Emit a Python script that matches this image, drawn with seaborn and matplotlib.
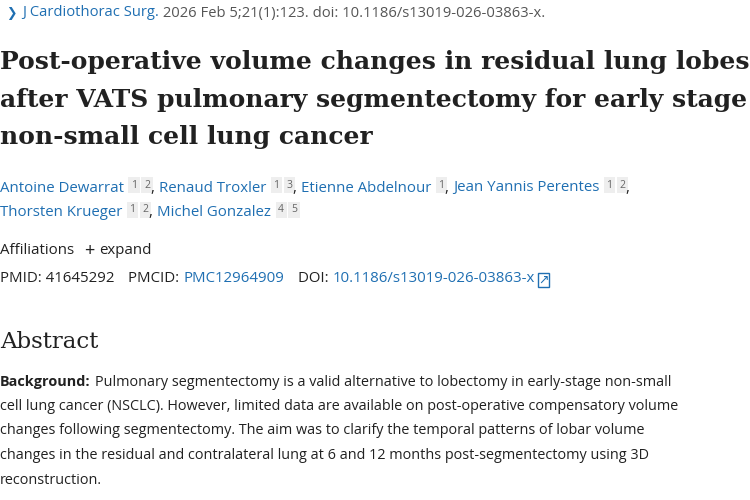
import matplotlib
matplotlib.use("Agg")
import matplotlib.pyplot as plt
import seaborn as sns

sns.set_theme(style="white")
plt.rcParams['font.family'] = ['Open Sans', 'DejaVu Sans']

BLUE = "#1f6fb2"
GRAY = "#555555"
DARK = "#212121"

journal = "J Cardiothorac Surg."
citation = " 2026 Feb 5;21(1):123. doi: 10.1186/s13019-026-03863-x."
title_lines = ["Post-operative volume changes in residual lung lobes",
               "after VATS pulmonary segmentectomy for early stage",
               "non-small cell lung cancer"]
author_rows = [[("Antoine Dewarrat", ["1", "2"]), ("Renaud Troxler", ["1", "3"]),
                ("Etienne Abdelnour", ["1"]), ("Jean Yannis Perentes", ["1", "2"])],
               [("Thorsten Krueger", ["1", "2"]), ("Michel Gonzalez", ["4", "5"])]]
pmid = "41645292"
pmcid = "PMC12964909"
doi = "10.1186/s13019-026-03863-x"
abstract_lines = [
    "Pulmonary segmentectomy is a valid alternative to lobectomy in early-stage non-small",
    "cell lung cancer (NSCLC). However, limited data are available on post-operative compensatory volume",
    "changes following segmentectomy. The aim was to clarify the temporal patterns of lobar volume",
    "changes in the residual and contralateral lung at 6 and 12 months post-segmentectomy using 3D",
    "reconstruction.",
]

W, H = 750, 500
fig = plt.figure(figsize=(7.5, 5), dpi=100)
fig.patch.set_facecolor("white")
r = fig.canvas.get_renderer()


def put(x, y, s, color=DARK, size=11, **kw):
    t = fig.text(x / W, 1 - y / H, s, color=color, fontsize=size, va="center", ha="left", **kw)
    bb = t.get_window_extent(r)
    return x + bb.width


def sup(x, y, s):
    t = fig.text(x / W, 1 - y / H, s, color="#666666", fontsize=7.5, va="center", ha="left",
                 bbox=dict(boxstyle="square,pad=0.25", fc="#eeeeee", ec="none"))
    return x + t.get_window_extent(r).width + 7


# top citation
x = put(6, 13, "\u276f", BLUE, 9, family="DejaVu Sans")
x = put(x + 6, 13, journal, BLUE, 10.6)
put(x, 13, citation, GRAY, 10.6)

# title
for i, line in enumerate(title_lines):
    put(0, 62 + i * 37.5, line, DARK, 18, family="DejaVu Serif", weight="bold")

# authors
for j, row in enumerate(author_rows):
    y = 188 + j * 25
    x = 0
    for k, (name, nums) in enumerate(row):
        x = put(x, y, name, BLUE, 10.8)
        x += 7
        for n in nums:
            x = sup(x, y - 3, n)
        x = put(x - 6, y, ", " if (k < len(row) - 1 or j == 0) else "", DARK, 10.8)

x = put(0, 251, "Affiliations", DARK, 10.8)
x = put(x + 10, 251, "+", DARK, 13)
put(x + 5, 251, "expand", DARK, 10.8)

x = put(0, 279, "PMID: " + pmid, DARK, 10.8)
x = put(x + 14, 279, "PMCID: ", DARK, 10.8)
x = put(x, 279, pmcid, BLUE, 10.8)
x = put(x + 14, 279, "DOI: ", DARK, 10.8)
x = put(x, 279, doi, BLUE, 10.8)
put(x + 3, 280, "\u2197", BLUE, 9, family="DejaVu Sans",
    bbox=dict(boxstyle="square,pad=0.05", fc="none", ec=BLUE, lw=1))

put(0, 342, "Abstract", DARK, 16.5, family="DejaVu Serif")

for i, line in enumerate(abstract_lines):
    y = 382 + i * 24.5
    x = 0
    if i == 0:
        x = put(0, y, "Background:", DARK, 10.4, weight="bold")
        x += 4
    put(x, y, line, DARK, 10.4)

fig.savefig("out.png", dpi=100, facecolor="white")
